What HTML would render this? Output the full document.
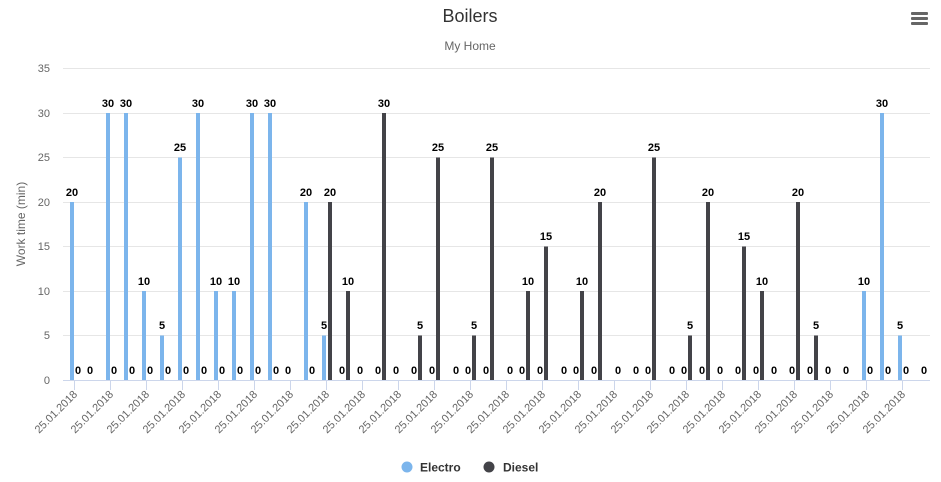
<!DOCTYPE html>
<html><head><meta charset="utf-8"><style>
body{margin:0;background:#fff;}
svg{display:block;font-family:"Liberation Sans",sans-serif;}
.dl{font-size:11px;font-weight:bold;fill:#000;stroke:#fff;stroke-width:2px;paint-order:stroke;stroke-linejoin:round;text-anchor:middle;}
.yl{font-size:11px;fill:#666;text-anchor:end;}
.xl{font-size:11px;fill:#666;text-anchor:end;}
</style></head><body>
<svg width="941" height="482" viewBox="0 0 941 482">
<rect width="941" height="482" fill="#fff"/>
<text x="470" y="22" text-anchor="middle" font-size="18" fill="#333">Boilers</text>
<text x="470" y="50" text-anchor="middle" font-size="12" fill="#666">My Home</text>
<g fill="#666"><rect x="911" y="12" width="17" height="3" rx="1"/><rect x="911" y="17" width="17" height="3" rx="1"/><rect x="911" y="22" width="17" height="3" rx="1"/></g>
<g stroke="#e6e6e6" stroke-width="1">
<line x1="63" x2="930" y1="68.5" y2="68.5"/><line x1="63" x2="930" y1="113.5" y2="113.5"/><line x1="63" x2="930" y1="157.5" y2="157.5"/><line x1="63" x2="930" y1="202.5" y2="202.5"/><line x1="63" x2="930" y1="246.5" y2="246.5"/><line x1="63" x2="930" y1="291.5" y2="291.5"/><line x1="63" x2="930" y1="335.5" y2="335.5"/>
</g>
<g class="yl">
<text x="50" y="72">35</text><text x="50" y="117">30</text><text x="50" y="161">25</text><text x="50" y="206">20</text><text x="50" y="250">15</text><text x="50" y="295">10</text><text x="50" y="339">5</text><text x="50" y="384">0</text>
</g>
<text transform="translate(25,224) rotate(-90)" text-anchor="middle" font-size="12" fill="#666">Work time (min)</text>
<line x1="63" x2="930" y1="380.5" y2="380.5" stroke="#ccd6eb"/>
<g stroke="#ccd6eb">
<line x1="74.5" x2="74.5" y1="380" y2="390"/><line x1="110.5" x2="110.5" y1="380" y2="390"/><line x1="146.5" x2="146.5" y1="380" y2="390"/><line x1="182.5" x2="182.5" y1="380" y2="390"/><line x1="218.5" x2="218.5" y1="380" y2="390"/><line x1="254.5" x2="254.5" y1="380" y2="390"/><line x1="290.5" x2="290.5" y1="380" y2="390"/><line x1="326.5" x2="326.5" y1="380" y2="390"/><line x1="362.5" x2="362.5" y1="380" y2="390"/><line x1="398.5" x2="398.5" y1="380" y2="390"/><line x1="434.5" x2="434.5" y1="380" y2="390"/><line x1="470.5" x2="470.5" y1="380" y2="390"/><line x1="506.5" x2="506.5" y1="380" y2="390"/><line x1="542.5" x2="542.5" y1="380" y2="390"/><line x1="578.5" x2="578.5" y1="380" y2="390"/><line x1="614.5" x2="614.5" y1="380" y2="390"/><line x1="650.5" x2="650.5" y1="380" y2="390"/><line x1="686.5" x2="686.5" y1="380" y2="390"/><line x1="722.5" x2="722.5" y1="380" y2="390"/><line x1="758.5" x2="758.5" y1="380" y2="390"/><line x1="794.5" x2="794.5" y1="380" y2="390"/><line x1="830.5" x2="830.5" y1="380" y2="390"/><line x1="866.5" x2="866.5" y1="380" y2="390"/><line x1="902.5" x2="902.5" y1="380" y2="390"/>
</g>
<g class="xl">
<text transform="translate(78,395) rotate(-45)">25.01.2018</text><text transform="translate(114,395) rotate(-45)">25.01.2018</text><text transform="translate(150,395) rotate(-45)">25.01.2018</text><text transform="translate(186,395) rotate(-45)">25.01.2018</text><text transform="translate(222,395) rotate(-45)">25.01.2018</text><text transform="translate(258,395) rotate(-45)">25.01.2018</text><text transform="translate(294,395) rotate(-45)">25.01.2018</text><text transform="translate(330,395) rotate(-45)">25.01.2018</text><text transform="translate(366,395) rotate(-45)">25.01.2018</text><text transform="translate(402,395) rotate(-45)">25.01.2018</text><text transform="translate(438,395) rotate(-45)">25.01.2018</text><text transform="translate(474,395) rotate(-45)">25.01.2018</text><text transform="translate(510,395) rotate(-45)">25.01.2018</text><text transform="translate(546,395) rotate(-45)">25.01.2018</text><text transform="translate(582,395) rotate(-45)">25.01.2018</text><text transform="translate(618,395) rotate(-45)">25.01.2018</text><text transform="translate(654,395) rotate(-45)">25.01.2018</text><text transform="translate(690,395) rotate(-45)">25.01.2018</text><text transform="translate(726,395) rotate(-45)">25.01.2018</text><text transform="translate(762,395) rotate(-45)">25.01.2018</text><text transform="translate(798,395) rotate(-45)">25.01.2018</text><text transform="translate(834,395) rotate(-45)">25.01.2018</text><text transform="translate(870,395) rotate(-45)">25.01.2018</text><text transform="translate(906,395) rotate(-45)">25.01.2018</text>
</g>
<g fill="#7cb5ec">
<rect x="70" y="202" width="4" height="178"/><rect x="106" y="113" width="4" height="267"/><rect x="124" y="113" width="4" height="267"/><rect x="142" y="291" width="4" height="89"/><rect x="160" y="335.5" width="4" height="44.5"/><rect x="178" y="157.5" width="4" height="222.5"/><rect x="196" y="113" width="4" height="267"/><rect x="214" y="291" width="4" height="89"/><rect x="232" y="291" width="4" height="89"/><rect x="250" y="113" width="4" height="267"/><rect x="268" y="113" width="4" height="267"/><rect x="304" y="202" width="4" height="178"/><rect x="322" y="335.5" width="4" height="44.5"/><rect x="862" y="291" width="4" height="89"/><rect x="880" y="113" width="4" height="267"/><rect x="898" y="335.5" width="4" height="44.5"/>
</g>
<g fill="#434348">
<rect x="328" y="202" width="4" height="178"/><rect x="346" y="291" width="4" height="89"/><rect x="382" y="113" width="4" height="267"/><rect x="418" y="335.5" width="4" height="44.5"/><rect x="436" y="157.5" width="4" height="222.5"/><rect x="472" y="335.5" width="4" height="44.5"/><rect x="490" y="157.5" width="4" height="222.5"/><rect x="526" y="291" width="4" height="89"/><rect x="544" y="246.5" width="4" height="133.5"/><rect x="580" y="291" width="4" height="89"/><rect x="598" y="202" width="4" height="178"/><rect x="652" y="157.5" width="4" height="222.5"/><rect x="688" y="335.5" width="4" height="44.5"/><rect x="706" y="202" width="4" height="178"/><rect x="742" y="246.5" width="4" height="133.5"/><rect x="760" y="291" width="4" height="89"/><rect x="796" y="202" width="4" height="178"/><rect x="814" y="335.5" width="4" height="44.5"/>
</g>
<g class="dl">
<text x="72" y="196">20</text><text x="108" y="107">30</text><text x="126" y="107">30</text><text x="144" y="285">10</text><text x="162" y="329">5</text><text x="180" y="151">25</text><text x="198" y="107">30</text><text x="216" y="285">10</text><text x="234" y="285">10</text><text x="252" y="107">30</text><text x="270" y="107">30</text><text x="306" y="196">20</text><text x="324" y="329">5</text><text x="864" y="285">10</text><text x="882" y="107">30</text><text x="900" y="329">5</text>
<text x="330" y="196">20</text><text x="348" y="285">10</text><text x="384" y="107">30</text><text x="420" y="329">5</text><text x="438" y="151">25</text><text x="474" y="329">5</text><text x="492" y="151">25</text><text x="528" y="285">10</text><text x="546" y="240">15</text><text x="582" y="285">10</text><text x="600" y="196">20</text><text x="654" y="151">25</text><text x="690" y="329">5</text><text x="708" y="196">20</text><text x="744" y="240">15</text><text x="762" y="285">10</text><text x="798" y="196">20</text><text x="816" y="329">5</text>
<text x="90" y="374">0</text><text x="288" y="374">0</text><text x="342" y="374">0</text><text x="360" y="374">0</text><text x="378" y="374">0</text><text x="396" y="374">0</text><text x="414" y="374">0</text><text x="432" y="374">0</text><text x="468" y="374">0</text><text x="486" y="374">0</text><text x="522" y="374">0</text><text x="540" y="374">0</text><text x="576" y="374">0</text><text x="594" y="374">0</text><text x="648" y="374">0</text><text x="684" y="374">0</text><text x="702" y="374">0</text><text x="720" y="374">0</text><text x="738" y="374">0</text><text x="756" y="374">0</text><text x="774" y="374">0</text><text x="792" y="374">0</text><text x="810" y="374">0</text><text x="828" y="374">0</text><text x="846" y="374">0</text>
<text x="78" y="374">0</text><text x="114" y="374">0</text><text x="132" y="374">0</text><text x="150" y="374">0</text><text x="168" y="374">0</text><text x="186" y="374">0</text><text x="204" y="374">0</text><text x="222" y="374">0</text><text x="240" y="374">0</text><text x="258" y="374">0</text><text x="276" y="374">0</text><text x="312" y="374">0</text><text x="456" y="374">0</text><text x="510" y="374">0</text><text x="564" y="374">0</text><text x="618" y="374">0</text><text x="636" y="374">0</text><text x="672" y="374">0</text><text x="870" y="374">0</text><text x="888" y="374">0</text><text x="906" y="374">0</text><text x="924" y="374">0</text>
</g>
<circle cx="407" cy="467" r="5.5" fill="#7cb5ec"/>
<text x="420" y="471.5" font-size="12" font-weight="bold" fill="#333">Electro</text>
<circle cx="489" cy="467" r="5.5" fill="#434348"/>
<text x="503" y="471.5" font-size="12" font-weight="bold" fill="#333">Diesel</text>
</svg>
</body></html>
